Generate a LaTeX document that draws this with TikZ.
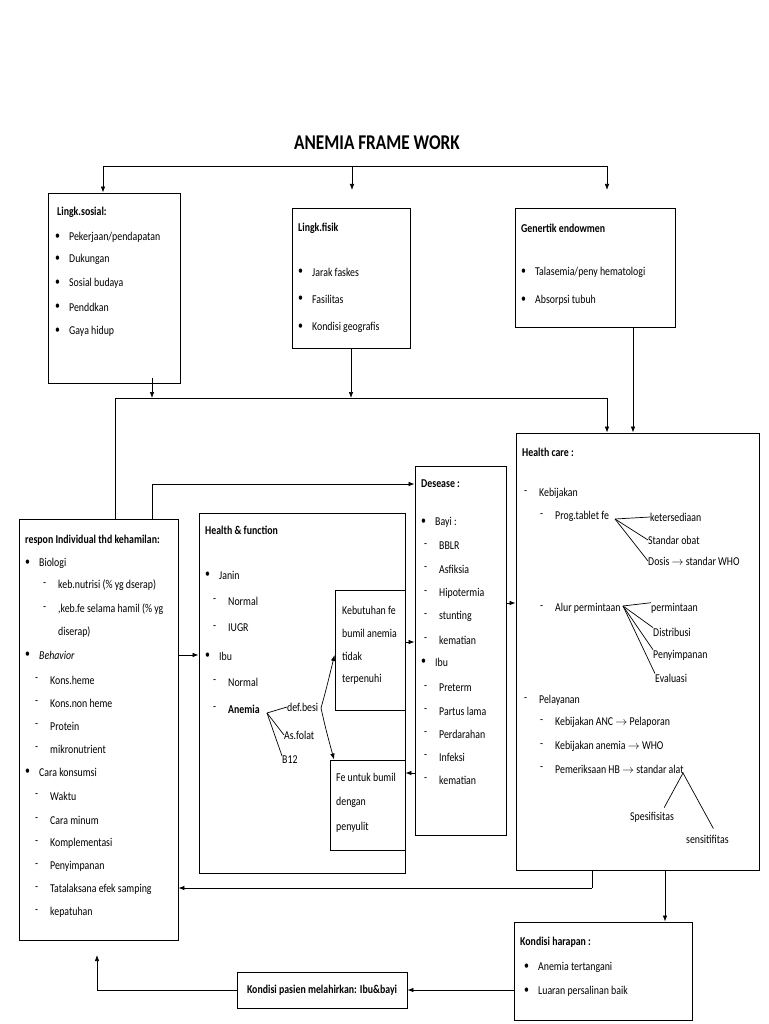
\documentclass[tikz,border=0pt]{standalone}
\usepackage{fontspec}
\setmainfont[FakeStretch=0.82]{Carlito}
\usetikzlibrary{arrows.meta,calc}
\tikzset{
  box/.style={draw,line width=0.9pt,inner sep=0pt},
  txt/.style={anchor=west,inner sep=0pt,font=\fontsize{12}{14}\selectfont},
  arr/.style={-{Latex[length=6pt,width=4.5pt]},line width=0.7pt},
  ln/.style={line width=0.7pt}
}
\newcommand\bx[5]{\node[box,minimum width={(#4-#2)*1pt},minimum height={(#5-#3)*1pt}] (#1) at ({(#2+#4)/2},{(#3+#5)/2}) {};}
\newcommand\tx[4]{\node[txt] (#1) at (#2,#3) {#4};}
\newcommand\bu[4]{\node[txt] (#1b) at (#2,#3) {\textbullet}; \node[txt] (#1) at ({#2+14},#3) {#4};}
\newcommand\da[4]{\node[txt] (#1b) at (#2,#3) {-}; \node[txt] (#1) at ({#2+15},#3) {#4};}
\begin{document}
\begin{tikzpicture}[x=1pt,y=-1pt]
\useasboundingbox (0,0) rectangle (768,1024);
\node[font=\bfseries\fontsize{21}{24}\selectfont] (title) at (377,143) {ANEMIA FRAME WORK};
% boxes
\bx{ls}{48}{193}{180}{383}
\bx{lf}{292}{208}{410}{348}
\bx{ge}{515}{208}{675}{327}
\bx{hc}{516}{433}{759}{870}
\bx{ri}{19}{519}{178}{940}
\bx{de}{415}{466}{506}{835}
\bx{hf}{199}{513}{405}{873}
\bx{kb}{335}{590}{405}{710}
\bx{fe}{330}{760}{405}{850}
\bx{kh}{514}{922}{692}{1020}
\bx{kp}{237}{972}{407}{1008}
% Lingk.sosial
\tx{t1}{57}{212}{\bfseries Lingk.sosial:}
\bu{s1}{55}{237}{Pekerjaan/pendapatan}
\bu{s2}{55}{259}{Dukungan}
\bu{s3}{55}{283}{Sosial budaya}
\bu{s4}{55}{307}{Penddkan}
\bu{s5}{55}{331}{Gaya hidup}
% Lingk.fisik
\tx{t2}{298}{228}{\bfseries Lingk.fisik}
\bu{f1}{298}{272}{Jarak faskes}
\bu{f2}{298}{299}{Fasilitas}
\bu{f3}{298}{327}{Kondisi geografis}
% Genertik
\tx{t3}{521}{228}{\bfseries Genertik endowmen}
\bu{g1}{521}{272}{Talasemia/peny hematologi}
\bu{g2}{521}{300}{Absorpsi tubuh}
% Health care
\tx{t4}{522}{452}{\bfseries Health care :}
\da{h1}{524}{493}{Kebijakan}
\da{h2}{540}{516}{Prog.tablet fe}
\tx{h2a}{650}{517}{ketersediaan}
\tx{h2b}{648}{540}{Standar obat}
\tx{h2c}{648}{561}{Dosis $\rightarrow$ standar WHO}
\da{h3}{540}{608}{Alur permintaan}
\tx{h3a}{651}{608}{permintaan}
\tx{h3b}{653}{632}{Distribusi}
\tx{h3c}{653}{655}{Penyimpanan}
\tx{h3d}{655}{678}{Evaluasi}
\da{h4}{524}{700}{Pelayanan}
\da{h5}{540}{722}{Kebijakan ANC $\rightarrow$ Pelaporan}
\da{h6}{540}{746}{Kebijakan anemia $\rightarrow$ WHO}
\da{h7}{540}{769}{Pemeriksaan HB $\rightarrow$ standar alat}
\tx{h7a}{630}{817}{Spesifisitas}
\tx{h7b}{686}{839}{sensitifitas}
\coordinate (pt) at (615,519);
\foreach \n in {h2a,h2b,h2c} \draw[ln] (pt) -- (\n.west);
\coordinate (pa) at (623,606);
\foreach \n in {h3a,h3b,h3c,h3d} \draw[ln] (pa) -- (\n.north west);
\coordinate (pk) at (683,773);
\draw[ln] (h7a.north east) ++(-10,-4) coordinate (pk1) -- (pk) -- ($(h7b.north)+(6,-6)$) coordinate (pk2);
% Desease
\tx{t5}{421}{484}{\bfseries Desease :}
\bu{d0}{421}{522}{Bayi :}
\da{d1}{424}{546}{BBLR}
\da{d2}{424}{569}{Asfiksia}
\da{d3}{424}{593}{Hipotermia}
\da{d4}{424}{616}{stunting}
\da{d5}{424}{640}{kematian}
\bu{d6}{421}{662}{Ibu}
\da{d7}{424}{688}{Preterm}
\da{d8}{424}{711}{Partus lama}
\da{d9}{424}{734}{Perdarahan}
\da{d10}{424}{757}{Infeksi}
\da{d11}{424}{780}{kematian}
% Health & function
\tx{t6}{205}{530}{\bfseries Health \& function}
\bu{j0}{205}{575}{Janin}
\da{j1}{213}{601}{Normal}
\da{j2}{213}{628}{IUGR}
\bu{j3}{205}{656}{Ibu}
\da{j4}{213}{682}{Normal}
\da{j5}{213}{709}{\bfseries Anemia}
\tx{a1}{287}{707}{def.besi}
\tx{a2}{284}{735}{As.folat}
\tx{a3}{282}{760}{B12}
\coordinate (an) at (267,713);
\draw[ln] (an) -- (a1.west);
\draw[ln] (an) -- (a2.west);
\draw[ln] (an) -- (a3.north west);
\coordinate (db) at (321,708);
\draw[arr] (db) .. controls (326,690) .. (kb.west |- 0,655);
\draw[arr] (db) .. controls (326,730) .. (fe.north -| 334,0);
\tx{k1}{342}{610}{Kebutuhan fe}
\tx{k2}{342}{633}{bumil anemia}
\tx{k3}{342}{656}{tidak}
\tx{k4}{342}{679}{terpenuhi}
\tx{e1}{336}{777}{Fe untuk bumil}
\tx{e2}{336}{802}{dengan}
\tx{e3}{336}{827}{penyulit}
% respon
\tx{t7}{25}{540}{\bfseries respon Individual thd kehamilan:}
\bu{r1}{25}{563}{Biologi}
\da{r2}{43}{585}{keb.nutrisi (\% yg dserap)}
\da{r3}{43}{609}{,keb.fe selama hamil (\% yg}
\tx{r3x}{58}{632}{diserap)}
\bu{r4}{25}{655}{\itshape Behavior}
\da{r5}{35}{680}{Kons.heme}
\da{r6}{35}{703}{Kons.non heme}
\da{r7}{35}{726}{Protein}
\da{r8}{35}{749}{mikronutrient}
\bu{r9}{25}{772}{Cara konsumsi}
\da{r10}{35}{796}{Waktu}
\da{r11}{35}{820}{Cara minum}
\da{r12}{35}{843}{Komplementasi}
\da{r13}{35}{866}{Penyimpanan}
\da{r14}{35}{889}{Tatalaksana efek samping}
\da{r15}{35}{912}{kepatuhan}
% Kondisi harapan
\tx{t8}{520}{942}{\bfseries Kondisi harapan :}
\bu{kh1}{524}{967}{Anemia tertangani}
\bu{kh2}{524}{991}{Luaran persalinan baik}
\node[txt,anchor=center] (kpt) at (kp.center) {\bfseries Kondisi pasien melahirkan: Ibu\&bayi};
% connectors top
\coordinate (tl) at (103,166);
\coordinate (tm) at (352,166);
\coordinate (tr) at (607,166);
\draw[ln] (tl) -- (tr);
\draw[arr] (tl) -- (tl |- ls.north);
\draw[arr] (tm) -- ++(0,24) coordinate (tme);
\draw[arr] (tr) -- ++(0,24) coordinate (tre);
% middle line
\coordinate (ml) at (115,398);
\coordinate (mr) at (607,398);
\draw[ln] (ml) -- (mr);
\draw[arr] (mr) -- (mr |- hc.north);
\coordinate (c1) at (152,378);
\draw[arr] (c1) -- (c1 |- ml);
\draw[arr] (lf.south) -- (lf.south |- ml);
\coordinate (c2) at (633,0);
\draw[arr] (ge.south -| c2) -- (hc.north -| c2);
\draw[ln] (ml) -- (ml |- ri.north);
% to desease
\coordinate (c3) at (152,484);
\draw[ln] (ri.north -| c3) -- (c3);
\draw[arr] (c3) -- (c3 -| de.west);
% respon -> hf
\draw[arr] (ri.east |- 0,655) -- (hf.west |- 0,655);
\draw[arr] (kb.east |- 0,642) -- (de.west |- 0,642);
\draw[arr] (de.west |- 0,773) -- (fe.east |- 0,773);
\draw[arr] (de.east |- 0,603) -- (hc.west |- 0,603);
% bottom
\coordinate (c4) at (592,888);
\draw[ln] (hc.south -| c4) -- (c4);
\draw[arr] (c4) -- (c4 -| ri.east);
\coordinate (c5) at (665,0);
\draw[arr] (hc.south -| c5) -- (kh.north -| c5);
\draw[arr] (kh.west |- kp.east) -- (kp.east);
\coordinate (c6) at (97,990);
\draw[ln] (kp.west |- c6) -- (c6);
\draw[arr] (c6) -- ++(0,-35);
\end{tikzpicture}
\end{document}
